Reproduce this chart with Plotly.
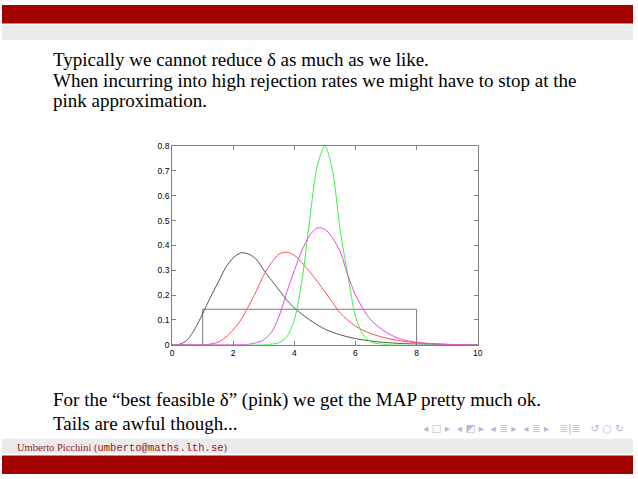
import plotly.graph_objects as go

# curves
x_black = [0, 0.25, 0.5, 0.75, 1, 1.25, 1.5, 1.75, 2, 2.25, 2.5, 2.75, 3, 3.25, 3.5, 3.75, 4,
           4.5, 5, 5.5, 6, 6.5, 7, 7.5, 8, 9, 10]
y_black = [0, 0.002, 0.02, 0.065, 0.125, 0.19, 0.25, 0.31, 0.35, 0.37, 0.365, 0.345, 0.30, 0.26,
           0.22, 0.18, 0.148, 0.10, 0.063, 0.04, 0.025, 0.015, 0.009, 0.005, 0.003, 0.001, 0]

x_red = [0, 1, 1.25, 1.5, 1.75, 2, 2.25, 2.5, 2.75, 3, 3.25, 3.5, 3.75, 4, 4.25, 4.5, 4.75, 5,
         5.25, 5.5, 6, 6.5, 7, 7.5, 8, 9, 10]
y_red = [0, 0, 0.003, 0.01, 0.03, 0.06, 0.10, 0.155, 0.215, 0.28, 0.33, 0.365, 0.373, 0.36, 0.33,
         0.294, 0.255, 0.213, 0.17, 0.128, 0.075, 0.045, 0.027, 0.015, 0.008, 0.002, 0]

x_pink = [0, 2, 2.5, 2.75, 3, 3.25, 3.5, 3.75, 4, 4.25, 4.5, 4.75, 5, 5.25, 5.5, 5.75, 6, 6.25,
          6.5, 7, 7.5, 8, 8.5, 9, 10]
y_pink = [0, 0, 0.002, 0.008, 0.02, 0.05, 0.115, 0.21, 0.30, 0.38, 0.44, 0.47, 0.465, 0.43, 0.375,
          0.28, 0.20, 0.145, 0.10, 0.05, 0.022, 0.01, 0.004, 0.001, 0]

x_green = [0, 3, 3.5, 3.75, 4, 4.25, 4.5, 4.75, 5, 5.25, 5.5, 5.75, 6, 6.25, 6.5, 7, 10]
y_green = [0, 0, 0.008, 0.032, 0.10, 0.26, 0.50, 0.72, 0.80, 0.70, 0.46, 0.28, 0.115, 0.04,
           0.012, 0.001, 0]

# uniform prior box on [1, 8]
x_box = [1, 1, 8, 8]
y_box = [0, 1 / 7, 1 / 7, 0]

x_ticks = [0, 2, 4, 6, 8, 10]
y_ticks = [0, 0.1, 0.2, 0.3, 0.4, 0.5, 0.6, 0.7, 0.8]

top_lines = [
    "Typically we cannot reduce δ as much as we like.",
    "When incurring into high rejection rates we might have to stop at the",
    "pink approximation.",
]
bottom_lines = [
    "For the “best feasible δ” (pink) we get the MAP pretty much ok.",
    "Tails are awful though...",
]

W, H = 638, 479
RED = "#a30000"
GREY = "#ebebeb"


def py(p):
    # pixel row -> paper y
    return 1 - p / H


fig = go.Figure()

fig.add_trace(go.Scatter(x=x_box, y=y_box, mode="lines",
                         line=dict(color="#7a7a7a", width=1)))
fig.add_trace(go.Scatter(x=x_black, y=y_black, mode="lines",
                         line=dict(color="#555555", width=1, shape="spline", smoothing=0.8)))
fig.add_trace(go.Scatter(x=x_red, y=y_red, mode="lines",
                         line=dict(color="#ff5050", width=1, shape="spline", smoothing=0.8)))
fig.add_trace(go.Scatter(x=x_green, y=y_green, mode="lines",
                         line=dict(color="#40ee40", width=1, shape="spline", smoothing=0.8)))
fig.add_trace(go.Scatter(x=x_pink, y=y_pink, mode="lines",
                         line=dict(color="#f040f0", width=1, shape="spline", smoothing=0.8)))

axis_style = dict(showline=True, linecolor="#808080", linewidth=1, mirror="ticks",
                  ticks="inside", ticklen=4, tickcolor="#808080", showgrid=False,
                  zeroline=False, tickfont=dict(family="Liberation Sans, Arial", size=8.5,
                                                color="black"))

# no fixed width/height: the figure fills the browser window
fig.update_layout(
    autosize=True,
    margin=dict(l=0, r=0, t=0, b=0),
    paper_bgcolor="white", plot_bgcolor="white",
    showlegend=False,
    xaxis=dict(domain=[172 / W, 481 / W], range=[0, 10], tickvals=x_ticks, **axis_style),
    yaxis=dict(domain=[py(347), py(144)], range=[0, 0.8], tickvals=y_ticks,
               ticktext=[("%g" % v) for v in y_ticks], **axis_style),
)

# beamer header and footer bands
fig.add_shape(type="rect", xref="paper", yref="paper", x0=0, x1=1, y0=py(19), y1=1,
              fillcolor=RED, line_width=0, layer="below")
fig.add_shape(type="rect", xref="paper", yref="paper", x0=0, x1=1, y0=py(36), y1=py(20),
              fillcolor=GREY, line_width=0, layer="below")
fig.add_shape(type="rect", xref="paper", yref="paper", x0=0, x1=1, y0=py(458), y1=py(443),
              fillcolor=GREY, line_width=0, layer="below")
fig.add_shape(type="rect", xref="paper", yref="paper", x0=0, x1=1, y0=0, y1=py(460),
              fillcolor=RED, line_width=0, layer="below")

serif = dict(family="Liberation Serif, Times New Roman", size=19, color="black")
for i, line in enumerate(top_lines):
    fig.add_annotation(text=line, xref="paper", yref="paper", x=50 / W, y=py(56 + 21 * i),
                       xanchor="left", yanchor="middle", showarrow=False, font=serif)
for i, line in enumerate(bottom_lines):
    fig.add_annotation(text=line, xref="paper", yref="paper", x=50 / W, y=py(403 + 24 * i),
                       xanchor="left", yanchor="middle", showarrow=False, font=serif)

fig.add_annotation(
    text='Umberto Picchini (<span style="font-family:Liberation Mono, monospace">'
         'umberto@maths.lth.se</span>)',
    xref="paper", yref="paper", x=13 / W, y=py(452), xanchor="left", yanchor="middle",
    showarrow=False, font=dict(family="Liberation Serif, Times New Roman", size=10.5,
                               color="#9a1a1a"))

# navigation symbols
fig.add_annotation(text="◂ □ ▸  ◂ ◩ ▸  ◂ ≣ ▸  ◂ ≣ ▸   ≣|≣   ↺ ○ ↻",
                   xref="paper", yref="paper", x=631 / W, y=py(433), xanchor="right",
                   yanchor="middle", showarrow=False,
                   font=dict(family="DejaVu Sans", size=10.5, color="#b8b8d8"))

# drop the page's default body margin so the slide sits at the window corner
fig.write_html("out.html", default_width="100vw", default_height="100vh",
               config={"displayModeBar": False},
               post_script="document.body.style.margin='0';"
                           "document.body.style.overflow='hidden';")
